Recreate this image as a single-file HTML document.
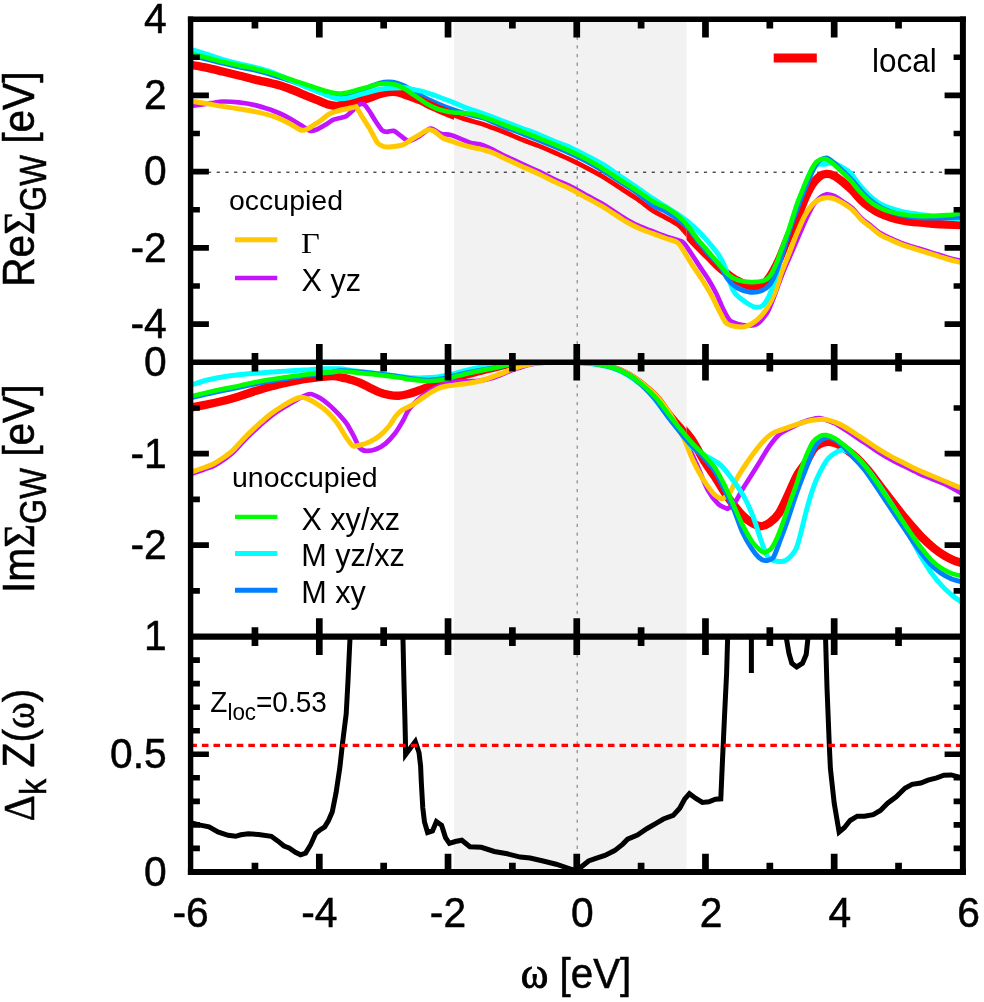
<!DOCTYPE html>
<html lang="en"><head><meta charset="utf-8"><title>GW self-energy</title>
<style>html,body{margin:0;padding:0;background:#fff}svg{display:block}text{font-family:"Liberation Sans",Arial,Helvetica,sans-serif;fill:#000}.sym{font-family:"Liberation Serif","DejaVu Serif",serif}.c{fill:none;stroke-linejoin:round;stroke-linecap:butt}.t{stroke:#000;stroke-width:5.6;fill:none}</style></head><body>
<svg width="984" height="1002" viewBox="0 0 984 1002">
<rect width="984" height="1002" fill="#fff"/>
<defs>
<clipPath id="cT"><rect x="190.6" y="19.1" width="772.3" height="343.1"/></clipPath>
<clipPath id="cM"><rect x="190.6" y="362.2" width="772.3" height="274.4"/></clipPath>
<clipPath id="cB"><rect x="190.6" y="636.6" width="772.3" height="235.4"/></clipPath>
<clipPath id="cIn"><rect x="454.0" y="0" width="232.5" height="1002"/></clipPath>
<clipPath id="cOut"><rect x="190.6" y="0" width="263.4" height="1002"/><rect x="686.5" y="0" width="276.4" height="1002"/></clipPath>
<clipPath id="cLeft"><rect x="0" y="0" width="600" height="1002"/></clipPath>
<clipPath id="cRight"><rect x="600" y="0" width="400" height="1002"/></clipPath>
</defs>
<rect x="454.0" y="19.1" width="232.5" height="852.8" fill="#f2f2f2"/>
<line x1="577.2" y1="19.1" x2="577.2" y2="872.0" stroke="#808080" stroke-width="1.1" stroke-dasharray="3.3 5.4"/>
<line x1="190.6" y1="172.2" x2="962.9" y2="172.2" stroke="#000" stroke-width="1.0" stroke-dasharray="3.2 5.5"/>
<g clip-path="url(#cT)">
<g clip-path="url(#cLeft)">
<path class="c" stroke="#0080ff" stroke-width="4.9" d="M191.0 55.5C191.4 55.6 192.5 55.7 193.3 55.9C194.1 56.1 202.0 58.0 206.3 59.1C210.6 60.2 217.1 61.9 222.5 63.2C227.9 64.5 233.4 65.7 238.8 66.9C244.2 68.1 249.6 68.9 255.0 70.2C260.4 71.5 265.9 73.0 271.3 74.6C276.7 76.2 282.2 78.2 287.6 80.0C293.0 81.8 298.4 83.4 303.8 85.2C309.2 87.0 316.2 89.6 320.0 90.8C323.8 92.0 328.7 93.6 331.5 94.1C334.3 94.6 337.2 94.9 340.0 94.7C342.8 94.5 346.6 93.7 349.8 93.0C353.0 92.3 356.3 91.3 359.5 90.3C362.7 89.3 366.1 88.2 369.3 87.0C372.5 85.8 375.8 84.1 379.0 83.3C382.2 82.5 386.1 82.0 388.8 82.0C391.5 82.0 394.3 82.3 396.9 83.0C399.5 83.7 402.4 84.8 405.0 86.1C407.6 87.4 410.6 89.9 413.2 91.5C415.8 93.1 418.6 94.5 421.3 95.9C424.0 97.3 427.8 99.2 431.0 100.7C434.2 102.2 437.6 103.6 440.8 105.0C444.0 106.4 447.3 107.7 450.6 108.9C453.9 110.1 459.2 111.9 463.6 113.1C468.0 114.3 479.3 116.8 483.1 118.0C486.9 119.2 490.4 121.0 494.0 122.5C497.6 124.0 502.2 126.0 506.3 127.6C510.4 129.2 517.1 131.6 522.5 133.7C527.9 135.8 533.4 138.0 538.8 140.2C544.2 142.4 549.6 144.5 555.0 146.7C560.4 148.9 565.9 151.2 571.3 153.7C576.7 156.2 582.3 158.9 587.6 161.8C592.9 164.7 598.5 167.8 603.8 171.1C609.1 174.4 614.6 178.2 620.0 181.7C625.4 185.2 631.1 188.4 636.3 192.2C641.5 196.0 649.0 202.9 653.0 205.5C657.0 208.1 661.8 209.2 666.0 211.5C670.2 213.8 675.5 217.3 679.0 220.0C682.5 222.7 685.9 225.7 688.8 229.0C691.7 232.3 695.4 238.1 698.5 242.0C701.6 245.9 705.0 249.7 708.3 253.5C711.6 257.3 718.7 264.3 721.3 267.8C723.9 271.3 725.1 275.8 727.8 279.2C730.5 282.6 733.8 285.9 737.6 288.1C741.4 290.3 746.8 291.8 750.6 292.2C754.4 292.6 758.8 291.9 762.0 290.6C765.2 289.3 768.0 286.9 770.1 284.1C772.2 281.3 774.8 275.6 776.6 271.1C778.4 266.6 779.9 261.3 781.5 256.4C783.1 251.5 787.6 236.1 789.6 230.0C791.6 223.9 795.0 214.9 796.1 212.0C797.2 209.1 798.2 206.1 799.3 203.2C800.4 200.3 804.3 190.5 806.6 184.9C808.9 179.3 812.5 171.2 814.0 168.4C815.5 165.6 817.4 162.3 819.4 160.6C821.4 158.9 825.5 157.7 826.8 157.9C828.1 158.1 831.8 161.0 834.1 162.9C836.4 164.8 840.2 168.4 843.2 171.2C846.2 174.0 849.5 177.1 852.4 180.3C855.3 183.5 858.6 188.1 861.5 191.3C864.4 194.5 867.9 198.0 870.7 200.4C873.5 202.8 876.6 205.0 879.8 206.8C883.0 208.6 887.0 210.5 890.8 211.9C894.6 213.3 899.1 214.6 903.4 215.5C907.7 216.4 913.1 217.1 918.0 217.5C922.9 217.9 927.8 218.0 932.7 218.0C937.6 218.0 942.4 218.0 947.3 217.8C952.2 217.6 960.4 217.1 963.0 217.0"/>
</g>
<g clip-path="url(#cOut)"><path class="c" stroke="#ff0000" stroke-width="8.4" d="M191.0 64.8C191.4 64.9 192.5 65.2 193.3 65.3C194.1 65.4 202.0 66.8 206.3 67.7C210.6 68.6 217.1 70.2 222.5 71.5C227.9 72.8 233.4 74.2 238.8 75.5C244.2 76.8 249.6 78.3 255.0 79.6C260.4 80.9 268.1 82.5 271.3 83.3C274.5 84.1 277.8 84.8 281.0 85.8C284.2 86.8 290.7 89.2 294.0 90.5C297.3 91.8 300.5 93.3 303.8 94.7C307.1 96.1 313.0 98.4 316.8 99.9C320.6 101.4 325.6 103.7 328.2 104.5C330.8 105.3 335.0 105.9 336.3 106.0C337.6 106.1 338.8 105.5 340.0 105.2C341.2 104.9 346.6 104.0 349.8 103.2C353.0 102.4 356.3 101.3 359.5 100.4C362.7 99.5 366.1 99.0 369.3 98.0C372.5 97.0 375.8 95.2 379.0 94.2C382.2 93.2 386.1 92.3 388.8 92.0C391.5 91.7 394.2 91.6 396.9 92.0C399.6 92.4 402.3 93.8 405.0 94.7C407.7 95.6 410.5 96.6 413.2 97.6C415.9 98.6 418.7 99.6 421.3 100.8C423.9 102.0 426.7 103.6 429.4 104.9C432.1 106.2 434.9 107.4 437.6 108.6C440.3 109.8 443.0 110.9 445.7 112.0C448.4 113.1 451.1 114.2 453.8 115.2C456.5 116.2 460.4 117.6 463.6 118.6C466.8 119.6 470.1 120.6 473.3 121.5C476.5 122.4 479.9 123.2 483.1 124.2C486.3 125.2 489.6 126.6 492.8 127.8C496.0 129.0 501.8 131.2 506.3 133.0C510.8 134.8 517.1 137.7 522.5 139.8C527.9 141.9 533.4 143.7 538.8 145.9C544.2 148.1 549.6 150.4 555.0 152.8C560.4 155.2 565.9 157.6 571.3 160.2C576.7 162.8 582.2 165.5 587.6 168.3C593.0 171.1 598.5 174.0 603.8 177.2C609.1 180.4 614.6 184.3 620.0 187.8C625.4 191.3 631.0 194.7 636.3 198.4C641.6 202.1 648.9 208.1 653.0 210.8C657.1 213.5 661.7 215.4 666.0 217.8C670.3 220.2 676.1 223.3 679.0 225.5C681.9 227.7 683.9 230.8 686.3 233.5C688.7 236.2 695.3 243.4 698.5 246.7C701.7 250.0 705.0 253.1 708.3 256.4C711.5 259.6 714.9 263.3 718.0 266.2C721.1 269.1 724.7 272.0 727.8 274.3C730.9 276.6 734.1 279.0 737.6 280.8C741.1 282.6 747.5 285.7 750.6 286.5C753.7 287.3 757.7 287.4 760.3 286.5C762.9 285.6 764.9 283.0 766.8 280.8C768.7 278.6 771.4 274.5 773.3 271.1C775.2 267.7 777.8 262.5 779.8 258.0C781.8 253.5 784.2 246.7 786.3 241.8C788.4 236.9 791.4 230.4 792.8 227.2C794.2 224.0 795.9 221.0 797.3 217.8C798.7 214.6 802.4 204.5 804.6 199.5C806.8 194.5 810.0 188.0 812.0 184.9C814.0 181.8 817.2 178.2 819.3 176.6C821.4 175.0 824.2 174.1 826.6 173.9C829.0 173.8 831.7 174.6 833.9 175.7C836.1 176.8 840.1 179.8 843.0 182.1C845.9 184.4 849.3 187.5 852.2 190.4C855.1 193.3 858.5 197.7 861.3 200.4C864.1 203.1 867.6 205.7 870.5 207.7C873.4 209.7 876.4 211.7 879.6 213.2C882.8 214.7 886.8 216.2 890.6 217.4C894.4 218.6 899.1 219.7 903.4 220.5C907.7 221.3 913.1 221.9 918.0 222.4C922.9 222.9 927.8 223.3 932.7 223.7C937.6 224.1 942.4 224.4 947.3 224.6C952.2 224.8 960.4 225.0 963.0 225.1"/></g>
<g clip-path="url(#cIn)"><path class="c" stroke="#ff0000" stroke-width="4.8" d="M191.0 64.8C191.4 64.9 192.5 65.2 193.3 65.3C194.1 65.4 202.0 66.8 206.3 67.7C210.6 68.6 217.1 70.2 222.5 71.5C227.9 72.8 233.4 74.2 238.8 75.5C244.2 76.8 249.6 78.3 255.0 79.6C260.4 80.9 268.1 82.5 271.3 83.3C274.5 84.1 277.8 84.8 281.0 85.8C284.2 86.8 290.7 89.2 294.0 90.5C297.3 91.8 300.5 93.3 303.8 94.7C307.1 96.1 313.0 98.4 316.8 99.9C320.6 101.4 325.6 103.7 328.2 104.5C330.8 105.3 335.0 105.9 336.3 106.0C337.6 106.1 338.8 105.5 340.0 105.2C341.2 104.9 346.6 104.0 349.8 103.2C353.0 102.4 356.3 101.3 359.5 100.4C362.7 99.5 366.1 99.0 369.3 98.0C372.5 97.0 375.8 95.2 379.0 94.2C382.2 93.2 386.1 92.3 388.8 92.0C391.5 91.7 394.2 91.6 396.9 92.0C399.6 92.4 402.3 93.8 405.0 94.7C407.7 95.6 410.5 96.6 413.2 97.6C415.9 98.6 418.7 99.6 421.3 100.8C423.9 102.0 426.7 103.6 429.4 104.9C432.1 106.2 434.9 107.4 437.6 108.6C440.3 109.8 443.0 110.9 445.7 112.0C448.4 113.1 451.1 114.2 453.8 115.2C456.5 116.2 460.4 117.6 463.6 118.6C466.8 119.6 470.1 120.6 473.3 121.5C476.5 122.4 479.9 123.2 483.1 124.2C486.3 125.2 489.6 126.6 492.8 127.8C496.0 129.0 501.8 131.2 506.3 133.0C510.8 134.8 517.1 137.7 522.5 139.8C527.9 141.9 533.4 143.7 538.8 145.9C544.2 148.1 549.6 150.4 555.0 152.8C560.4 155.2 565.9 157.6 571.3 160.2C576.7 162.8 582.2 165.5 587.6 168.3C593.0 171.1 598.5 174.0 603.8 177.2C609.1 180.4 614.6 184.3 620.0 187.8C625.4 191.3 631.0 194.7 636.3 198.4C641.6 202.1 648.9 208.1 653.0 210.8C657.1 213.5 661.7 215.4 666.0 217.8C670.3 220.2 676.1 223.3 679.0 225.5C681.9 227.7 683.9 230.8 686.3 233.5C688.7 236.2 695.3 243.4 698.5 246.7C701.7 250.0 705.0 253.1 708.3 256.4C711.5 259.6 714.9 263.3 718.0 266.2C721.1 269.1 724.7 272.0 727.8 274.3C730.9 276.6 734.1 279.0 737.6 280.8C741.1 282.6 747.5 285.7 750.6 286.5C753.7 287.3 757.7 287.4 760.3 286.5C762.9 285.6 764.9 283.0 766.8 280.8C768.7 278.6 771.4 274.5 773.3 271.1C775.2 267.7 777.8 262.5 779.8 258.0C781.8 253.5 784.2 246.7 786.3 241.8C788.4 236.9 791.4 230.4 792.8 227.2C794.2 224.0 795.9 221.0 797.3 217.8C798.7 214.6 802.4 204.5 804.6 199.5C806.8 194.5 810.0 188.0 812.0 184.9C814.0 181.8 817.2 178.2 819.3 176.6C821.4 175.0 824.2 174.1 826.6 173.9C829.0 173.8 831.7 174.6 833.9 175.7C836.1 176.8 840.1 179.8 843.0 182.1C845.9 184.4 849.3 187.5 852.2 190.4C855.1 193.3 858.5 197.7 861.3 200.4C864.1 203.1 867.6 205.7 870.5 207.7C873.4 209.7 876.4 211.7 879.6 213.2C882.8 214.7 886.8 216.2 890.6 217.4C894.4 218.6 899.1 219.7 903.4 220.5C907.7 221.3 913.1 221.9 918.0 222.4C922.9 222.9 927.8 223.3 932.7 223.7C937.6 224.1 942.4 224.4 947.3 224.6C952.2 224.8 960.4 225.0 963.0 225.1"/></g>
<path class="c" stroke="#c414ff" stroke-width="4.7" d="M191.0 106.0C191.4 105.9 192.5 105.7 193.3 105.6C194.1 105.5 207.2 103.7 211.0 103.2C214.8 102.7 218.6 101.6 222.5 101.5C226.4 101.4 233.4 101.8 238.8 102.4C244.2 103.0 249.7 103.9 255.0 105.1C260.3 106.3 268.0 108.9 271.3 110.0C274.6 111.1 277.8 112.5 281.0 114.0C284.2 115.5 287.6 117.3 290.8 119.1C294.0 120.9 297.4 123.2 300.6 125.1C303.8 127.0 308.2 130.2 310.3 130.8C312.4 131.4 314.7 130.3 316.8 129.5C318.9 128.7 322.3 126.7 325.0 125.1C327.7 123.5 330.4 121.1 333.0 119.9C335.6 118.7 339.4 118.3 341.2 117.8C343.0 117.3 344.9 116.9 346.5 115.9C348.1 114.9 351.3 111.8 353.0 110.2C354.7 108.6 356.2 106.3 357.9 105.3C359.6 104.3 363.5 103.6 363.6 103.7C363.7 103.8 367.6 108.5 369.3 111.0C371.0 113.5 373.7 118.4 375.8 121.5C377.9 124.6 381.0 129.4 382.3 130.5C383.6 131.6 385.5 131.8 387.2 131.8C388.9 131.8 391.8 130.3 393.7 130.8C395.6 131.3 398.0 133.9 400.2 135.4C402.4 136.9 407.1 141.0 408.3 141.1C409.5 141.2 415.0 138.8 418.0 137.0C421.0 135.2 426.4 130.5 427.8 129.7C429.2 128.9 431.1 128.4 432.7 128.9C434.3 129.4 437.8 132.7 440.8 133.7C443.8 134.7 447.4 134.2 450.6 135.0C453.8 135.8 457.1 137.3 460.3 138.6C463.5 139.9 467.0 141.8 470.1 142.7C473.2 143.6 476.6 143.4 479.8 144.3C483.0 145.2 486.4 146.7 489.6 148.2C492.8 149.7 500.9 154.0 506.3 156.6C511.7 159.2 517.1 161.7 522.5 164.2C527.9 166.7 533.4 169.0 538.8 171.5C544.2 174.0 549.6 177.1 555.0 179.6C560.4 182.1 566.0 184.2 571.3 186.9C576.6 189.6 582.2 192.9 587.6 195.9C593.0 198.9 598.5 201.6 603.8 204.8C609.1 208.0 617.8 214.0 620.0 215.4C622.2 216.8 624.3 218.3 626.5 219.5C628.7 220.7 635.8 224.6 640.0 226.5C644.2 228.4 648.7 229.8 653.0 231.5C657.3 233.2 661.6 235.0 666.0 236.5C670.4 238.0 679.3 240.0 682.3 241.8C685.3 243.6 686.8 247.1 688.8 249.9C690.8 252.7 695.3 259.7 698.5 264.6C701.7 269.5 705.4 274.5 708.3 279.2C711.2 283.9 714.0 289.0 716.4 293.8C718.8 298.6 721.0 304.6 722.9 308.5C724.8 312.4 727.3 317.6 729.4 319.8C731.5 322.0 734.7 323.0 737.6 323.9C740.5 324.8 744.0 325.5 747.3 325.5C750.5 325.5 754.3 325.7 757.1 323.9C759.9 322.1 764.2 317.3 766.8 313.3C769.4 309.3 771.3 303.6 773.3 298.7C775.3 293.8 777.7 286.2 779.8 280.8C781.9 275.4 784.2 269.5 786.3 264.6C788.4 259.7 790.7 254.8 792.8 249.9C794.9 245.0 797.9 237.9 800.3 232.4C802.7 226.9 805.6 220.1 807.6 216.0C809.6 211.9 812.4 206.4 814.0 204.0C815.6 201.6 818.1 199.0 820.0 197.5C821.9 196.0 824.3 194.7 826.6 194.4C828.9 194.2 831.7 195.0 834.0 196.0C836.3 197.0 840.0 199.7 843.0 201.7C846.0 203.7 849.4 205.6 852.2 208.1C855.0 210.6 858.5 215.4 861.3 218.1C864.1 220.8 867.5 223.0 870.5 225.4C873.5 227.8 876.3 230.7 879.6 232.8C882.9 234.9 886.9 236.5 890.6 238.2C894.3 239.9 899.0 242.1 903.4 243.7C907.8 245.3 913.1 246.8 918.0 248.3C922.9 249.8 927.8 251.4 932.7 252.9C937.6 254.4 942.4 256.1 947.3 257.5C952.2 258.9 960.4 260.8 963.0 261.5"/>
<path class="c" stroke="#ffc800" stroke-width="5.0" d="M191.0 101.2C191.4 101.2 192.5 101.4 193.3 101.5C194.1 101.6 202.0 102.8 206.3 103.5C210.6 104.2 217.1 105.5 222.5 106.4C227.9 107.3 233.4 108.0 238.8 108.9C244.2 109.8 249.6 110.5 255.0 111.6C260.4 112.7 268.0 114.7 271.3 115.7C274.6 116.7 277.8 118.0 281.0 119.4C284.2 120.8 287.6 122.6 290.8 124.3C294.0 126.0 298.5 129.4 300.6 130.0C302.7 130.6 305.0 130.0 307.0 129.2C309.0 128.4 311.5 126.5 313.6 125.1C315.7 123.7 317.9 122.5 320.0 121.0C322.1 119.5 325.7 116.1 328.2 114.6C330.7 113.1 335.1 111.7 336.3 111.3C337.5 110.9 338.7 110.5 340.0 110.2C341.3 109.9 345.4 109.1 348.1 108.5C350.8 107.9 356.3 106.6 356.3 106.6C356.3 106.6 359.4 112.2 361.1 115.0C362.8 117.8 366.7 123.6 369.3 128.0C371.9 132.4 375.8 140.7 377.4 142.7C379.0 144.7 381.5 146.0 383.9 146.7C386.3 147.4 389.3 147.0 392.0 146.7C394.7 146.4 400.4 145.7 403.4 144.6C406.4 143.5 408.8 141.1 411.5 139.4C414.2 137.7 417.0 136.2 419.7 134.6C422.4 133.0 425.6 130.5 427.8 130.0C430.0 129.5 432.4 130.3 434.3 131.3C436.2 132.3 439.4 136.1 442.4 137.8C445.4 139.5 450.6 140.8 453.8 141.9C457.0 143.0 460.4 144.2 463.6 145.1C466.8 146.0 470.1 146.8 473.3 147.6C476.5 148.4 479.9 148.8 483.1 149.7C486.3 150.6 489.7 151.5 492.8 152.8C495.9 154.1 501.8 157.2 506.3 159.3C510.8 161.4 517.1 164.3 522.5 166.7C527.9 169.1 533.4 171.5 538.8 174.0C544.2 176.5 549.6 179.6 555.0 182.1C560.4 184.6 566.0 186.7 571.3 189.4C576.6 192.1 582.2 195.4 587.6 198.4C593.0 201.4 598.5 204.1 603.8 207.3C609.1 210.5 617.8 216.5 620.0 217.9C622.2 219.3 624.3 220.8 626.5 222.0C628.7 223.2 635.8 226.9 640.0 228.8C644.2 230.7 648.7 232.1 653.0 233.7C657.3 235.3 662.2 237.1 666.0 238.5C669.8 239.9 674.4 240.4 677.4 242.6C680.4 244.8 681.9 248.4 683.9 251.5C685.9 254.6 689.2 260.3 692.0 264.6C694.8 268.9 698.7 274.2 701.8 279.2C704.9 284.2 708.6 290.1 711.5 295.4C714.4 300.7 717.6 307.8 719.7 311.7C721.8 315.6 724.1 321.0 726.2 323.1C728.3 325.2 731.4 325.8 734.3 326.3C737.2 326.8 742.0 327.3 745.7 326.3C749.4 325.3 753.8 322.6 757.1 319.8C760.4 317.0 764.1 312.7 766.8 308.5C769.5 304.3 772.7 297.8 775.0 292.2C777.3 286.6 779.5 278.2 781.5 272.7C783.5 267.2 786.6 259.9 788.0 256.4C789.4 252.9 790.7 249.5 792.0 246.0C793.3 242.5 795.4 236.9 797.3 232.4C799.2 227.9 802.5 219.9 804.6 216.0C806.7 212.1 810.0 207.3 812.0 205.0C814.0 202.7 817.1 200.6 819.3 199.5C821.5 198.4 824.2 197.8 826.6 197.7C829.0 197.5 831.6 197.8 833.9 198.6C836.2 199.4 840.1 201.4 843.0 203.2C845.9 205.0 849.4 207.1 852.2 209.6C855.0 212.1 858.5 216.9 861.3 219.6C864.1 222.3 867.5 224.5 870.5 226.9C873.5 229.3 876.3 232.2 879.6 234.3C882.9 236.4 886.9 238.0 890.6 239.7C894.3 241.4 899.0 243.6 903.4 245.2C907.8 246.8 913.1 248.3 918.0 249.8C922.9 251.3 927.8 252.9 932.7 254.4C937.6 255.9 942.4 257.6 947.3 259.0C952.2 260.4 960.4 262.3 963.0 263.0"/>
<path class="c" stroke="#00ffff" stroke-width="5.0" d="M191.0 49.5C191.4 49.6 192.5 50.1 193.3 50.3C194.1 50.5 202.0 52.8 206.3 54.1C210.6 55.4 217.1 57.7 222.5 59.3C227.9 60.9 233.4 62.4 238.8 63.7C244.2 65.0 249.6 66.0 255.0 67.4C260.4 68.8 266.0 70.1 271.3 72.0C276.6 73.9 282.2 76.5 287.6 78.8C293.0 81.1 298.4 83.8 303.8 86.1C309.2 88.4 316.2 91.1 320.0 92.6C323.8 94.1 328.7 96.1 331.5 97.0C334.3 97.9 337.1 98.7 340.0 98.8C342.9 98.9 346.6 98.3 349.8 97.6C353.0 96.9 356.3 95.6 359.5 94.7C362.7 93.8 366.1 92.9 369.3 92.0C372.5 91.1 375.8 90.1 379.0 89.5C382.2 88.9 385.5 88.4 388.8 88.2C392.1 88.0 402.2 87.6 405.0 87.7C407.8 87.8 410.5 88.9 413.2 89.5C415.9 90.1 418.6 90.5 421.3 91.2C424.0 91.9 426.7 92.8 429.4 93.7C432.1 94.6 434.9 95.5 437.6 96.5C440.3 97.5 443.0 98.5 445.7 99.5C448.4 100.5 451.1 101.5 453.8 102.6C456.5 103.7 460.4 105.7 463.6 106.9C466.8 108.1 470.1 109.1 473.3 110.2C476.5 111.3 479.9 112.4 483.1 113.6C486.3 114.8 489.6 116.0 492.8 117.2C496.0 118.4 501.8 120.7 506.3 122.4C510.8 124.1 517.1 126.5 522.5 128.5C527.9 130.5 533.4 132.4 538.8 134.6C544.2 136.8 549.6 139.3 555.0 141.5C560.4 143.7 566.0 145.6 571.3 148.0C576.6 150.4 582.2 153.3 587.6 156.1C593.0 158.9 598.6 161.8 603.8 165.0C609.0 168.2 614.6 172.4 620.0 176.1C625.4 179.8 630.9 183.3 636.3 187.0C641.7 190.7 648.8 195.9 653.0 198.7C657.2 201.5 661.7 204.1 666.0 206.8C670.3 209.5 675.6 212.7 679.0 215.0C682.4 217.3 685.7 219.7 688.8 222.3C691.9 224.9 695.4 228.1 698.5 231.2C701.6 234.3 705.2 238.1 708.3 241.8C711.4 245.5 715.4 250.2 718.0 254.0C720.6 257.8 722.8 261.9 724.6 266.2C726.4 270.5 728.0 276.9 729.4 280.8C730.8 284.7 731.9 288.8 734.3 292.2C736.7 295.6 741.1 298.9 744.1 301.1C747.1 303.3 751.2 306.1 753.8 306.8C756.4 307.5 760.2 307.2 762.0 306.0C763.8 304.8 766.8 300.4 768.5 297.1C770.2 293.8 771.8 288.5 773.3 284.1C774.8 279.7 776.7 273.3 778.2 267.8C779.7 262.3 781.3 255.2 783.1 249.0C784.9 242.8 787.4 235.1 789.6 228.2C791.8 221.3 795.1 210.2 797.3 204.0C799.5 197.8 802.3 191.2 804.6 185.7C806.9 180.2 810.7 171.6 812.0 169.5C813.3 167.4 815.3 165.4 817.4 164.5C819.5 163.6 822.3 164.4 824.8 164.2C827.2 163.9 829.7 162.6 832.1 163.0C834.5 163.4 838.3 165.0 841.2 166.6C844.1 168.2 847.8 170.4 850.4 173.0C853.0 175.6 856.6 181.4 859.5 184.9C862.4 188.4 865.9 192.2 868.7 194.9C871.5 197.6 874.5 200.2 877.8 202.3C881.1 204.4 885.0 206.3 888.8 207.7C892.6 209.1 898.6 210.8 903.4 211.9C908.2 213.0 913.1 213.4 918.0 214.1C922.9 214.8 927.8 215.4 932.7 216.0C937.6 216.6 942.4 217.2 947.3 217.8C952.2 218.4 960.4 219.3 963.0 219.6"/>
<g clip-path="url(#cRight)">
<path class="c" stroke="#0080ff" stroke-width="4.9" d="M191.0 55.5C191.4 55.6 192.5 55.7 193.3 55.9C194.1 56.1 202.0 58.0 206.3 59.1C210.6 60.2 217.1 61.9 222.5 63.2C227.9 64.5 233.4 65.7 238.8 66.9C244.2 68.1 249.6 68.9 255.0 70.2C260.4 71.5 265.9 73.0 271.3 74.6C276.7 76.2 282.2 78.2 287.6 80.0C293.0 81.8 298.4 83.4 303.8 85.2C309.2 87.0 316.2 89.6 320.0 90.8C323.8 92.0 328.7 93.6 331.5 94.1C334.3 94.6 337.2 94.9 340.0 94.7C342.8 94.5 346.6 93.7 349.8 93.0C353.0 92.3 356.3 91.3 359.5 90.3C362.7 89.3 366.1 88.2 369.3 87.0C372.5 85.8 375.8 84.1 379.0 83.3C382.2 82.5 386.1 82.0 388.8 82.0C391.5 82.0 394.3 82.3 396.9 83.0C399.5 83.7 402.4 84.8 405.0 86.1C407.6 87.4 410.6 89.9 413.2 91.5C415.8 93.1 418.6 94.5 421.3 95.9C424.0 97.3 427.8 99.2 431.0 100.7C434.2 102.2 437.6 103.6 440.8 105.0C444.0 106.4 447.3 107.7 450.6 108.9C453.9 110.1 459.2 111.9 463.6 113.1C468.0 114.3 479.3 116.8 483.1 118.0C486.9 119.2 490.4 121.0 494.0 122.5C497.6 124.0 502.2 126.0 506.3 127.6C510.4 129.2 517.1 131.6 522.5 133.7C527.9 135.8 533.4 138.0 538.8 140.2C544.2 142.4 549.6 144.5 555.0 146.7C560.4 148.9 565.9 151.2 571.3 153.7C576.7 156.2 582.3 158.9 587.6 161.8C592.9 164.7 598.5 167.8 603.8 171.1C609.1 174.4 614.6 178.2 620.0 181.7C625.4 185.2 631.1 188.4 636.3 192.2C641.5 196.0 649.0 202.9 653.0 205.5C657.0 208.1 661.8 209.2 666.0 211.5C670.2 213.8 675.5 217.3 679.0 220.0C682.5 222.7 685.9 225.7 688.8 229.0C691.7 232.3 695.4 238.1 698.5 242.0C701.6 245.9 705.0 249.7 708.3 253.5C711.6 257.3 718.7 264.3 721.3 267.8C723.9 271.3 725.1 275.8 727.8 279.2C730.5 282.6 733.8 285.9 737.6 288.1C741.4 290.3 746.8 291.8 750.6 292.2C754.4 292.6 758.8 291.9 762.0 290.6C765.2 289.3 768.0 286.9 770.1 284.1C772.2 281.3 774.8 275.6 776.6 271.1C778.4 266.6 779.9 261.3 781.5 256.4C783.1 251.5 787.6 236.1 789.6 230.0C791.6 223.9 795.0 214.9 796.1 212.0C797.2 209.1 798.2 206.1 799.3 203.2C800.4 200.3 804.3 190.5 806.6 184.9C808.9 179.3 812.5 171.2 814.0 168.4C815.5 165.6 817.4 162.3 819.4 160.6C821.4 158.9 825.5 157.7 826.8 157.9C828.1 158.1 831.8 161.0 834.1 162.9C836.4 164.8 840.2 168.4 843.2 171.2C846.2 174.0 849.5 177.1 852.4 180.3C855.3 183.5 858.6 188.1 861.5 191.3C864.4 194.5 867.9 198.0 870.7 200.4C873.5 202.8 876.6 205.0 879.8 206.8C883.0 208.6 887.0 210.5 890.8 211.9C894.6 213.3 899.1 214.6 903.4 215.5C907.7 216.4 913.1 217.1 918.0 217.5C922.9 217.9 927.8 218.0 932.7 218.0C937.6 218.0 942.4 218.0 947.3 217.8C952.2 217.6 960.4 217.1 963.0 217.0"/>
</g>
<path class="c" stroke="#00ff00" stroke-width="4.6" d="M191.0 54.0C191.4 54.1 192.5 54.2 193.3 54.4C194.1 54.6 202.0 56.5 206.3 57.6C210.6 58.7 217.1 60.4 222.5 61.7C227.9 63.0 233.4 64.2 238.8 65.4C244.2 66.6 249.6 67.4 255.0 68.7C260.4 70.0 265.9 71.5 271.3 73.1C276.7 74.7 282.2 76.7 287.6 78.5C293.0 80.3 298.4 81.9 303.8 83.7C309.2 85.5 316.2 88.1 320.0 89.3C323.8 90.5 328.7 92.0 331.5 92.6C334.3 93.2 337.1 93.7 340.0 93.6C342.9 93.5 346.6 92.7 349.8 92.0C353.0 91.3 356.3 90.2 359.5 89.3C362.7 88.4 366.1 87.5 369.3 86.6C372.5 85.7 375.8 84.6 379.0 84.1C382.2 83.6 386.1 83.6 388.8 83.7C391.5 83.8 394.3 84.1 396.9 85.0C399.5 85.9 402.4 87.5 405.0 89.0C407.6 90.5 410.5 92.9 413.2 94.7C415.9 96.5 418.6 98.3 421.3 100.1C424.0 101.9 426.8 103.9 429.4 105.3C432.0 106.7 435.0 108.0 437.6 109.0C440.2 110.0 443.0 110.6 445.7 111.2C448.4 111.8 451.1 112.2 453.8 112.5C456.5 112.8 460.4 112.8 463.6 113.1C466.8 113.4 470.1 113.6 473.3 114.2C476.5 114.8 479.9 116.0 483.1 117.0C486.3 118.0 489.6 119.1 492.8 120.3C496.0 121.5 501.8 123.9 506.3 125.6C510.8 127.3 517.1 129.6 522.5 131.7C527.9 133.8 533.4 136.0 538.8 138.2C544.2 140.4 549.6 142.5 555.0 144.7C560.4 146.9 565.9 149.2 571.3 151.7C576.7 154.2 582.3 156.9 587.6 159.8C592.9 162.7 598.5 165.8 603.8 169.1C609.1 172.4 614.6 176.2 620.0 179.7C625.4 183.2 630.9 186.6 636.3 190.2C641.7 193.8 648.9 199.1 653.0 201.5C657.1 203.9 661.9 205.2 666.0 207.6C670.1 210.0 675.4 213.5 679.0 216.6C682.6 219.7 685.7 223.5 688.8 227.2C691.9 230.9 695.4 236.3 698.5 240.2C701.6 244.1 705.1 247.7 708.3 251.5C711.5 255.3 714.8 259.1 718.0 262.9C721.2 266.7 725.0 271.8 727.8 274.3C730.6 276.8 734.0 278.8 737.6 280.0C741.2 281.2 746.3 282.0 750.6 282.1C754.9 282.2 761.0 281.6 763.6 280.8C766.2 280.0 768.5 278.1 770.1 275.9C771.7 273.7 774.7 267.4 776.6 262.9C778.5 258.4 780.9 250.9 783.1 245.0C785.3 239.1 787.6 233.2 789.6 227.2C791.6 221.2 795.1 209.4 797.3 203.2C799.5 197.0 802.3 190.5 804.6 184.9C806.9 179.3 810.6 171.1 812.0 168.4C813.4 165.7 815.3 162.6 817.4 161.1C819.5 159.6 822.8 158.7 824.8 158.9C826.8 159.1 829.9 161.2 832.1 162.9C834.3 164.6 838.2 168.4 841.2 171.2C844.2 174.0 847.5 177.1 850.4 180.3C853.3 183.5 856.6 188.1 859.5 191.3C862.4 194.5 865.9 198.0 868.7 200.4C871.5 202.8 874.5 205.0 877.8 206.8C881.1 208.6 885.0 210.3 888.8 211.4C892.6 212.5 898.6 213.7 903.4 214.5C908.2 215.3 913.1 215.8 918.0 216.0C922.9 216.2 927.8 216.1 932.7 216.0C937.6 215.9 942.4 215.5 947.3 215.1C952.2 214.7 960.4 213.5 963.0 213.2"/>
</g>
<g clip-path="url(#cM)">
<g clip-path="url(#cOut)"><path class="c" stroke="#ff0000" stroke-width="8.4" d="M191.0 407.5C191.4 407.4 192.5 407.1 193.3 407.0C194.1 406.9 202.0 405.5 206.3 404.6C210.6 403.7 217.1 402.3 222.5 401.0C227.9 399.7 233.4 398.1 238.8 396.5C244.2 394.9 249.6 392.8 255.0 391.1C260.4 389.4 265.9 387.7 271.3 386.2C276.7 384.7 282.2 383.5 287.6 382.3C293.0 381.1 298.4 380.0 303.8 379.1C309.2 378.2 315.7 377.4 320.0 377.0C324.3 376.6 329.7 376.0 333.0 376.1C336.3 376.2 340.5 377.3 342.8 377.8C345.1 378.3 347.5 378.7 349.8 379.4C352.1 380.1 356.4 381.3 359.5 382.6C362.6 383.9 366.1 385.9 369.3 387.5C372.5 389.1 375.8 390.9 379.0 392.1C382.2 393.3 385.6 394.2 388.8 394.8C392.0 395.4 395.3 395.8 398.5 395.7C401.7 395.6 405.1 394.8 408.3 394.0C411.5 393.2 414.8 391.9 418.0 390.8C421.2 389.7 424.5 388.3 427.8 387.2C431.1 386.1 434.4 384.9 437.6 383.9C440.8 382.9 445.1 381.9 447.3 381.3C449.5 380.7 451.6 380.0 453.8 379.4C456.0 378.8 460.3 377.8 463.6 377.0C466.9 376.2 472.3 374.8 476.6 373.7C480.9 372.6 486.1 371.2 489.6 370.4C493.1 369.6 496.7 368.8 500.0 368.0C503.3 367.2 506.6 366.2 510.0 365.5C513.4 364.8 518.0 363.7 522.0 363.2C526.0 362.7 534.0 362.1 540.0 362.0C546.0 361.9 575.4 361.9 580.0 362.0C584.6 362.1 589.1 362.7 593.6 363.4C598.1 364.1 608.3 365.7 614.0 367.4C619.7 369.1 625.2 371.7 630.2 374.6C635.2 377.5 639.9 381.0 644.4 384.7C648.9 388.4 654.4 393.1 658.7 397.9C663.0 402.7 667.5 410.2 671.0 414.6C674.5 419.0 678.4 423.1 682.0 427.4C685.6 431.7 689.7 436.3 692.9 441.2C696.1 446.1 700.4 454.8 703.9 460.4C707.4 466.0 711.8 472.0 714.9 476.8C718.0 481.6 721.1 487.1 724.0 491.5C726.9 495.9 730.3 500.6 733.2 504.3C736.1 508.0 739.5 512.4 742.3 515.2C745.1 518.0 748.7 520.9 751.5 522.6C754.3 524.3 757.9 526.2 760.6 526.2C763.3 526.2 767.1 524.5 769.8 522.6C772.5 520.7 776.5 517.0 778.9 513.4C781.3 509.8 785.1 501.2 788.0 495.1C790.9 489.0 794.5 479.8 797.2 475.0C799.9 470.2 804.2 465.4 806.6 461.5C809.0 457.6 811.5 451.7 813.2 449.4C814.9 447.1 817.2 445.2 819.8 443.9C822.3 442.6 825.6 441.7 828.5 441.7C831.4 441.7 834.5 442.7 837.3 443.9C840.1 445.1 843.3 447.4 846.1 449.4C848.9 451.4 853.7 455.0 857.1 458.2C860.5 461.4 864.6 466.1 868.1 470.3C871.6 474.5 875.4 479.8 879.0 484.5C882.6 489.2 886.3 494.0 890.0 498.8C893.7 503.6 897.4 508.7 901.0 513.1C904.6 517.5 908.4 522.1 912.0 526.2C915.6 530.3 919.4 534.8 922.9 538.3C926.4 541.8 930.4 545.4 933.9 548.2C937.4 551.0 942.1 554.2 944.9 555.9C947.7 557.6 950.7 559.0 953.7 560.3C956.7 561.6 961.5 563.0 963.0 563.5"/></g>
<g clip-path="url(#cIn)"><path class="c" stroke="#ff0000" stroke-width="4.8" d="M191.0 407.5C191.4 407.4 192.5 407.1 193.3 407.0C194.1 406.9 202.0 405.5 206.3 404.6C210.6 403.7 217.1 402.3 222.5 401.0C227.9 399.7 233.4 398.1 238.8 396.5C244.2 394.9 249.6 392.8 255.0 391.1C260.4 389.4 265.9 387.7 271.3 386.2C276.7 384.7 282.2 383.5 287.6 382.3C293.0 381.1 298.4 380.0 303.8 379.1C309.2 378.2 315.7 377.4 320.0 377.0C324.3 376.6 329.7 376.0 333.0 376.1C336.3 376.2 340.5 377.3 342.8 377.8C345.1 378.3 347.5 378.7 349.8 379.4C352.1 380.1 356.4 381.3 359.5 382.6C362.6 383.9 366.1 385.9 369.3 387.5C372.5 389.1 375.8 390.9 379.0 392.1C382.2 393.3 385.6 394.2 388.8 394.8C392.0 395.4 395.3 395.8 398.5 395.7C401.7 395.6 405.1 394.8 408.3 394.0C411.5 393.2 414.8 391.9 418.0 390.8C421.2 389.7 424.5 388.3 427.8 387.2C431.1 386.1 434.4 384.9 437.6 383.9C440.8 382.9 445.1 381.9 447.3 381.3C449.5 380.7 451.6 380.0 453.8 379.4C456.0 378.8 460.3 377.8 463.6 377.0C466.9 376.2 472.3 374.8 476.6 373.7C480.9 372.6 486.1 371.2 489.6 370.4C493.1 369.6 496.7 368.8 500.0 368.0C503.3 367.2 506.6 366.2 510.0 365.5C513.4 364.8 518.0 363.7 522.0 363.2C526.0 362.7 534.0 362.1 540.0 362.0C546.0 361.9 575.4 361.9 580.0 362.0C584.6 362.1 589.1 362.7 593.6 363.4C598.1 364.1 608.3 365.7 614.0 367.4C619.7 369.1 625.2 371.7 630.2 374.6C635.2 377.5 639.9 381.0 644.4 384.7C648.9 388.4 654.4 393.1 658.7 397.9C663.0 402.7 667.5 410.2 671.0 414.6C674.5 419.0 678.4 423.1 682.0 427.4C685.6 431.7 689.7 436.3 692.9 441.2C696.1 446.1 700.4 454.8 703.9 460.4C707.4 466.0 711.8 472.0 714.9 476.8C718.0 481.6 721.1 487.1 724.0 491.5C726.9 495.9 730.3 500.6 733.2 504.3C736.1 508.0 739.5 512.4 742.3 515.2C745.1 518.0 748.7 520.9 751.5 522.6C754.3 524.3 757.9 526.2 760.6 526.2C763.3 526.2 767.1 524.5 769.8 522.6C772.5 520.7 776.5 517.0 778.9 513.4C781.3 509.8 785.1 501.2 788.0 495.1C790.9 489.0 794.5 479.8 797.2 475.0C799.9 470.2 804.2 465.4 806.6 461.5C809.0 457.6 811.5 451.7 813.2 449.4C814.9 447.1 817.2 445.2 819.8 443.9C822.3 442.6 825.6 441.7 828.5 441.7C831.4 441.7 834.5 442.7 837.3 443.9C840.1 445.1 843.3 447.4 846.1 449.4C848.9 451.4 853.7 455.0 857.1 458.2C860.5 461.4 864.6 466.1 868.1 470.3C871.6 474.5 875.4 479.8 879.0 484.5C882.6 489.2 886.3 494.0 890.0 498.8C893.7 503.6 897.4 508.7 901.0 513.1C904.6 517.5 908.4 522.1 912.0 526.2C915.6 530.3 919.4 534.8 922.9 538.3C926.4 541.8 930.4 545.4 933.9 548.2C937.4 551.0 942.1 554.2 944.9 555.9C947.7 557.6 950.7 559.0 953.7 560.3C956.7 561.6 961.5 563.0 963.0 563.5"/></g>
<path class="c" stroke="#c414ff" stroke-width="4.7" d="M192.0 473.5C192.4 473.4 193.5 473.1 194.3 472.8C195.1 472.5 200.8 470.7 204.0 469.5C207.2 468.3 210.7 467.4 213.8 465.8C216.9 464.2 220.4 462.0 223.5 459.8C226.6 457.6 230.3 455.2 233.3 452.4C236.3 449.6 239.8 445.2 243.0 441.9C246.2 438.6 249.6 435.1 252.8 432.1C256.0 429.1 259.3 426.0 262.5 423.2C265.7 420.4 269.2 417.3 272.3 415.0C275.4 412.7 278.8 410.5 282.0 408.5C285.2 406.5 288.9 404.5 291.8 402.8C294.7 401.1 297.5 399.1 300.6 397.6C303.7 396.1 307.4 393.9 310.3 394.0C313.2 394.1 317.0 396.3 320.0 398.1C323.0 399.9 326.7 402.7 329.8 405.4C332.9 408.1 337.2 412.6 339.6 415.2C342.0 417.8 344.5 420.4 346.5 423.3C348.5 426.2 350.9 430.8 353.0 434.7C355.1 438.6 358.0 445.8 359.5 447.7C361.0 449.6 363.6 450.7 366.0 450.9C368.4 451.1 372.7 450.5 375.8 449.3C378.9 448.1 382.6 446.0 385.5 443.6C388.4 441.2 392.4 436.8 395.3 433.0C398.2 429.2 401.6 423.1 403.4 420.0C405.2 416.9 406.2 413.3 408.3 410.3C410.4 407.3 413.5 404.1 416.4 401.3C419.3 398.5 422.7 395.6 426.2 393.2C429.7 390.8 433.6 388.4 437.6 386.7C441.6 385.0 446.3 383.5 450.6 382.6C454.9 381.7 459.3 381.6 463.6 381.3C467.9 381.0 472.3 381.4 476.6 381.0C480.9 380.6 486.0 379.7 489.6 378.8C493.2 377.9 496.6 376.5 500.0 375.2C503.4 373.9 506.6 372.3 510.0 371.0C513.4 369.7 517.2 368.5 520.5 367.4C523.8 366.3 527.2 365.2 530.6 364.5C534.0 363.8 540.2 362.9 545.0 362.7C549.8 362.5 576.0 362.4 580.0 362.5C584.0 362.6 588.0 362.8 592.0 363.4C596.0 364.0 606.8 365.7 612.5 367.4C618.2 369.1 623.7 371.7 628.7 374.6C633.7 377.5 638.4 381.0 642.9 384.7C647.4 388.4 652.9 393.1 657.2 397.9C661.5 402.7 665.6 408.8 669.5 414.5C673.4 420.2 678.9 428.6 683.0 436.0C687.1 443.4 692.7 455.6 696.6 464.0C700.5 472.4 704.7 484.2 707.6 489.6C710.5 495.0 716.0 501.9 718.5 504.3C721.0 506.7 727.5 508.8 727.7 508.8C727.9 508.8 733.0 505.0 735.0 502.4C737.0 499.8 739.8 493.8 742.3 489.6C744.8 485.4 748.5 479.9 751.5 475.0C754.5 470.1 757.6 465.3 760.6 460.4C763.6 455.5 767.0 449.6 769.8 445.7C772.6 441.8 776.3 437.2 778.9 434.8C781.5 432.4 784.9 431.0 788.0 429.3C791.1 427.6 795.4 425.3 799.0 423.8C802.6 422.3 806.4 420.7 810.0 419.8C813.6 418.9 817.3 417.8 821.0 418.3C824.7 418.8 831.6 422.0 833.8 422.9C836.0 423.8 838.0 425.2 840.0 426.5C842.0 427.8 848.5 432.0 852.7 434.8C856.9 437.6 861.5 440.7 865.9 443.6C870.3 446.5 874.7 449.7 879.0 452.4C883.3 455.1 887.9 457.8 892.2 460.1C896.5 462.4 901.0 464.5 905.4 466.7C909.8 468.9 914.3 471.3 918.6 473.3C922.9 475.3 927.3 476.9 931.7 478.7C936.1 480.5 940.6 482.1 944.9 484.2C949.2 486.3 960.0 492.4 963.0 494.0"/>
<path class="c" stroke="#ffc800" stroke-width="5.0" d="M191.0 472.0C191.4 471.9 192.5 471.6 193.3 471.3C194.1 471.0 199.8 469.2 203.0 468.0C206.2 466.8 209.7 465.9 212.8 464.3C215.9 462.7 219.4 460.5 222.5 458.3C225.6 456.1 229.3 453.7 232.3 450.9C235.3 448.1 238.8 443.7 242.0 440.4C245.2 437.1 248.6 433.6 251.8 430.6C255.0 427.6 258.3 424.5 261.5 421.7C264.7 418.9 268.2 415.8 271.3 413.5C274.4 411.2 277.8 409.0 281.0 407.0C284.2 405.0 287.6 402.9 290.8 401.3C294.0 399.7 298.5 397.7 300.6 397.3C302.7 396.9 305.0 397.8 307.0 398.6C309.0 399.4 313.7 401.8 316.8 403.8C319.9 405.8 323.6 408.3 326.6 411.1C329.6 413.9 333.4 417.9 336.3 421.7C339.2 425.5 344.5 435.0 346.5 437.9C348.5 440.8 352.2 445.7 353.0 446.1C353.8 446.5 357.4 445.7 359.5 445.2C361.6 444.7 366.2 443.4 369.3 442.0C372.4 440.6 376.1 438.6 379.0 436.3C381.9 434.0 386.3 429.5 388.8 426.5C391.3 423.5 393.4 419.2 395.3 416.8C397.2 414.4 399.3 412.1 401.8 410.3C404.3 408.5 408.4 407.2 411.5 405.4C414.6 403.6 418.1 401.1 421.3 398.9C424.5 396.7 427.8 394.2 431.0 392.4C434.2 390.6 437.3 388.6 440.8 387.5C444.3 386.4 449.5 385.8 453.8 385.1C458.1 384.4 462.5 384.2 466.8 383.5C471.1 382.8 476.5 381.8 479.8 381.0C483.1 380.2 486.3 378.9 489.6 377.8C492.9 376.7 496.6 375.5 500.0 374.2C503.4 372.9 506.6 371.3 510.0 370.0C513.4 368.7 517.2 367.4 520.5 366.4C523.8 365.4 527.2 364.5 530.6 364.0C534.0 363.5 540.2 362.6 545.0 362.5C549.8 362.4 575.7 362.4 580.0 362.5C584.3 362.6 588.7 362.8 593.0 363.4C597.3 364.0 607.8 365.7 613.5 367.4C619.2 369.1 624.7 371.7 629.7 374.6C634.7 377.5 639.4 381.0 643.9 384.7C648.4 388.4 653.9 393.1 658.2 397.9C662.5 402.7 666.8 408.7 670.5 414.5C674.2 420.3 680.3 431.3 683.8 438.4C687.3 445.5 689.6 453.5 692.9 460.4C696.2 467.3 700.6 475.4 703.9 480.5C707.2 485.6 713.0 493.2 714.9 495.1C716.8 497.0 721.7 498.9 722.2 498.8C722.7 498.7 727.7 495.8 729.5 493.3C731.3 490.8 734.1 483.4 736.8 478.7C739.5 474.0 743.1 468.4 746.0 464.0C748.9 459.6 752.2 455.0 755.1 451.2C758.0 447.4 761.6 442.9 764.3 440.2C767.0 437.5 770.0 434.7 773.4 432.9C776.8 431.1 783.1 429.1 788.0 427.4C792.9 425.7 799.1 423.6 802.7 422.6C806.3 421.6 809.9 420.6 813.6 420.1C817.3 419.6 821.6 418.9 825.5 419.5C829.4 420.1 835.0 422.1 839.5 424.1C844.0 426.1 848.4 429.1 852.7 431.8C857.0 434.5 861.5 437.7 865.9 440.6C870.3 443.5 874.7 446.7 879.0 449.4C883.3 452.1 887.9 454.8 892.2 457.1C896.5 459.4 901.0 461.5 905.4 463.7C909.8 465.9 914.3 468.3 918.6 470.3C922.9 472.3 927.3 473.9 931.7 475.7C936.1 477.5 940.5 479.3 944.9 481.2C949.3 483.1 960.0 487.7 963.0 489.0"/>
<path class="c" stroke="#00ffff" stroke-width="5.0" d="M191.0 385.0C191.4 384.9 192.5 384.5 193.3 384.3C194.1 384.1 201.9 381.3 206.3 380.2C210.7 379.1 217.1 377.9 222.5 377.0C227.9 376.1 233.4 375.4 238.8 374.8C244.2 374.2 249.6 373.6 255.0 373.2C260.4 372.8 265.9 372.5 271.3 372.1C276.7 371.7 282.2 371.2 287.6 370.9C293.0 370.6 298.4 370.3 303.8 370.0C309.2 369.7 315.7 369.0 320.0 368.8C324.3 368.6 330.7 368.8 333.0 368.8C335.3 368.8 337.7 368.6 340.0 368.8C342.3 369.0 350.9 370.3 356.3 371.0C361.7 371.7 367.1 372.3 372.5 373.0C377.9 373.7 383.4 374.3 388.8 375.0C394.2 375.7 402.3 376.7 405.0 377.0C407.7 377.3 410.5 377.7 413.2 377.8C415.9 377.9 420.8 377.9 424.6 377.8C428.4 377.7 433.3 377.5 437.6 377.0C441.9 376.5 446.3 375.5 450.6 374.5C454.9 373.5 459.2 372.0 463.6 370.9C468.0 369.8 473.3 368.5 478.2 367.7C483.1 366.9 493.3 365.8 500.0 365.1C506.7 364.4 513.3 363.4 520.0 363.0C526.7 362.6 533.3 362.6 540.0 362.5C546.7 362.4 570.0 362.4 575.0 362.5C580.0 362.6 585.0 362.8 590.0 363.5C595.0 364.2 604.8 365.7 610.5 367.4C616.2 369.1 621.7 371.7 626.7 374.6C631.7 377.5 636.5 380.9 640.9 384.7C645.3 388.5 652.2 395.9 654.3 398.3C656.4 400.7 658.1 403.4 660.0 405.9C661.9 408.4 667.3 415.2 671.0 419.8C674.7 424.4 678.4 429.3 682.0 433.9C685.6 438.5 689.2 444.2 692.9 447.6C696.6 451.0 701.4 453.1 705.7 455.8C710.0 458.5 716.1 461.0 720.4 464.9C724.7 468.8 729.3 475.2 733.2 480.5C737.1 485.8 740.9 491.1 744.1 496.9C747.3 502.7 750.6 510.2 753.3 517.1C756.0 524.0 758.4 532.8 760.6 539.0C762.8 545.2 765.9 554.6 767.9 557.3C769.9 560.0 774.1 560.8 777.1 561.3C780.1 561.8 783.6 561.7 786.2 560.1C788.8 558.5 793.1 553.9 795.4 550.0C797.7 546.1 798.7 540.8 800.0 536.1C801.3 531.4 804.6 517.2 806.6 509.8C808.6 502.4 811.3 493.1 813.2 487.8C815.1 482.5 817.3 477.3 819.8 472.4C822.3 467.5 826.1 461.0 828.5 458.2C830.9 455.4 835.3 452.7 837.3 451.6C839.3 450.5 841.7 449.5 843.9 450.1C846.1 450.7 852.6 453.7 856.2 456.6C859.8 459.5 863.9 464.7 867.4 469.0C870.9 473.3 874.8 478.9 878.3 484.0C881.8 489.1 885.7 494.9 889.3 500.5C892.9 506.1 896.5 511.7 899.8 517.5C903.1 523.3 906.4 529.9 909.8 536.1C913.2 542.3 917.2 550.0 920.7 555.9C924.2 561.8 928.4 568.7 931.7 573.4C935.0 578.1 939.3 583.0 942.7 586.6C946.1 590.2 950.8 594.1 953.7 596.5C956.6 598.9 961.5 601.9 963.0 603.0"/>
<path class="c" stroke="#0080ff" stroke-width="4.9" d="M191.0 397.7C191.4 397.6 192.5 397.4 193.3 397.2C194.1 397.0 202.0 395.2 206.3 394.2C210.6 393.2 217.1 391.7 222.5 390.6C227.9 389.5 233.4 388.5 238.8 387.4C244.2 386.3 249.6 384.9 255.0 383.8C260.4 382.7 265.9 381.8 271.3 380.9C276.7 380.0 282.2 379.1 287.6 378.3C293.0 377.5 298.4 376.6 303.8 375.8C309.2 375.0 315.7 374.0 320.0 373.5C324.3 373.0 330.6 372.4 333.0 372.1C335.4 371.8 337.6 370.9 340.0 370.8C342.4 370.7 350.9 371.2 356.3 371.6C361.7 372.0 367.1 372.6 372.5 373.2C377.9 373.8 383.4 374.4 388.8 375.1C394.2 375.8 399.6 376.8 405.0 377.6C410.4 378.4 418.1 379.4 421.3 379.7C424.5 380.0 427.8 380.2 431.0 380.0C434.2 379.8 439.7 379.2 444.0 378.4C448.3 377.6 452.7 376.1 457.0 375.1C461.3 374.1 465.6 373.1 470.0 372.2C474.4 371.3 481.7 370.0 486.3 369.2C490.9 368.4 496.6 367.4 500.0 366.7C503.4 366.0 506.6 365.0 510.0 364.4C513.4 363.8 517.0 363.0 520.5 362.8C524.0 362.6 533.5 362.5 540.0 362.5C546.5 362.5 569.5 362.4 575.0 362.5C580.5 362.6 586.1 362.7 591.6 363.4C597.1 364.1 606.3 365.7 612.0 367.4C617.7 369.1 623.2 371.6 628.2 374.6C633.2 377.6 637.7 381.3 642.0 385.2C646.3 389.1 651.3 394.4 655.4 399.4C659.5 404.4 666.0 414.2 669.5 418.9C673.0 423.6 676.9 428.3 680.5 432.6C684.1 436.9 687.9 441.6 691.4 445.4C694.9 449.2 698.9 452.6 702.4 456.4C705.9 460.2 710.2 464.6 713.4 469.2C716.6 473.8 719.7 480.0 722.5 485.6C725.3 491.2 729.9 500.4 733.2 508.0C736.5 515.6 739.7 526.0 742.3 531.7C744.9 537.4 749.4 544.9 751.5 548.2C753.6 551.5 757.0 555.7 758.8 557.3C760.6 558.9 763.5 560.6 765.2 560.6C766.9 560.6 771.7 559.7 773.4 557.3C775.1 554.9 778.4 545.1 780.7 539.0C783.0 532.9 785.7 525.6 788.0 518.9C790.3 512.2 794.3 499.5 797.2 491.5C800.1 483.5 803.9 473.8 806.3 467.7C808.7 461.6 811.7 452.9 813.6 449.4C815.5 445.9 819.0 441.8 821.0 440.2C823.0 438.6 826.0 437.5 828.3 437.5C830.6 437.5 833.0 438.7 835.1 440.0C837.2 441.3 841.2 444.4 843.9 447.0C846.6 449.6 849.9 453.6 852.9 456.9C855.9 460.2 860.5 464.7 863.9 469.0C867.3 473.3 871.2 479.1 874.8 484.3C878.4 489.5 882.1 495.3 885.8 500.8C889.5 506.3 893.1 511.8 896.8 517.3C900.5 522.8 904.2 528.4 907.8 533.7C911.4 539.0 915.2 544.9 918.7 549.6C922.2 554.3 926.4 559.7 929.7 563.3C933.0 566.9 937.3 570.6 940.7 573.0C944.1 575.4 948.1 577.5 951.7 579.0C955.3 580.5 961.1 581.5 963.0 582.0"/>
<path class="c" stroke="#00ff00" stroke-width="4.6" d="M191.0 396.2C191.4 396.1 192.5 395.9 193.3 395.7C194.1 395.5 202.0 393.7 206.3 392.7C210.6 391.7 217.1 390.2 222.5 389.1C227.9 388.0 233.4 387.0 238.8 385.9C244.2 384.8 249.6 383.4 255.0 382.3C260.4 381.2 265.9 380.3 271.3 379.4C276.7 378.5 282.2 377.8 287.6 377.0C293.0 376.2 298.4 375.5 303.8 374.8C309.2 374.1 315.7 373.3 320.0 372.9C324.3 372.5 330.7 372.3 333.0 372.1C335.3 371.9 337.7 371.2 340.0 371.3C342.3 371.4 350.9 372.1 356.3 372.6C361.7 373.1 367.1 373.6 372.5 374.2C377.9 374.8 383.4 375.4 388.8 376.1C394.2 376.8 399.6 377.8 405.0 378.6C410.4 379.4 418.1 380.4 421.3 380.7C424.5 381.0 427.8 381.2 431.0 381.0C434.2 380.8 439.7 380.2 444.0 379.4C448.3 378.6 452.7 377.2 457.0 376.1C461.3 375.0 465.6 373.9 470.0 372.9C474.4 371.9 481.7 370.5 486.3 369.6C490.9 368.7 496.7 367.4 500.0 366.7C503.3 366.0 506.6 365.0 510.0 364.4C513.4 363.8 517.0 363.0 520.5 362.8C524.0 362.6 533.5 362.5 540.0 362.5C546.5 362.5 569.5 362.4 575.0 362.5C580.5 362.6 586.1 362.7 591.6 363.4C597.1 364.1 606.3 365.7 612.0 367.4C617.7 369.1 623.2 371.7 628.2 374.6C633.2 377.5 637.9 381.0 642.4 384.7C646.9 388.4 652.4 393.4 656.7 398.4C661.0 403.4 667.4 412.8 671.0 417.4C674.6 422.0 678.4 426.8 682.0 431.1C685.6 435.4 689.4 440.1 692.9 443.9C696.4 447.7 700.4 451.1 703.9 454.9C707.4 458.7 711.7 463.1 714.9 467.7C718.1 472.3 721.2 478.5 724.0 484.1C726.8 489.7 730.2 497.6 733.2 504.3C736.2 511.0 739.5 518.8 742.3 524.4C745.1 530.0 749.5 537.7 751.5 540.8C753.5 543.9 757.2 547.6 758.8 549.1C760.4 550.6 763.9 552.7 764.3 552.7C764.7 552.7 769.9 550.5 771.6 548.2C773.3 545.9 776.8 538.6 778.9 533.5C781.0 528.4 785.0 516.4 788.0 507.9C791.0 499.4 796.1 485.5 797.2 482.3C798.3 479.1 798.9 475.6 800.0 472.4C801.1 469.2 804.7 459.4 806.6 454.9C808.5 450.4 811.5 444.0 813.2 441.7C814.9 439.4 817.8 437.2 819.8 436.2C821.8 435.2 824.1 434.8 826.3 435.1C828.5 435.4 832.4 436.9 835.1 438.4C837.8 439.9 841.1 442.7 843.9 445.0C846.7 447.3 851.4 451.4 854.9 454.9C858.4 458.4 862.5 462.7 865.9 467.0C869.3 471.3 873.2 477.1 876.8 482.3C880.4 487.5 884.1 493.3 887.8 498.8C891.5 504.3 895.1 509.8 898.8 515.3C902.5 520.8 906.2 526.5 909.8 531.7C913.4 536.9 917.2 542.6 920.7 547.1C924.2 551.6 928.4 557.0 931.7 560.3C935.0 563.6 939.3 566.9 942.7 569.0C946.1 571.1 950.7 573.1 953.7 574.1C956.7 575.1 961.5 575.7 963.0 576.0"/>
</g>
<g clip-path="url(#cB)">
<polyline fill="none" stroke="#000" stroke-width="5" style="stroke-linejoin:miter;stroke-miterlimit:4" points="191.0,822.5 192.5,823.1 200.2,825.1 209.0,826.9 217.9,832.0 228.1,835.3 235.7,836.3 240.8,834.8 248.4,833.8 258.6,834.5 271.3,836.3 277.7,840.9 284.0,846.0 289.1,848.0 295.4,852.3 300.5,854.8 305.6,853.1 310.7,844.7 315.8,833.3 319.6,830.2 324.7,826.9 328.5,820.5 332.3,811.7 336.1,792.6 339.9,767.2 342.4,744.3 346.2,713.8 348.0,680.8 350.1,636.0 351.5,600.0 402.0,600.0 402.9,636.0 403.9,680.8 404.9,718.9 405.4,740.0 405.6,754.6 415.3,741.6 419.0,752.5 420.6,766.0 421.3,782.0 422.8,808.0 424.5,822.0 427.6,832.5 432.5,831.0 436.4,821.5 441.6,825.2 445.5,837.6 449.4,843.4 455.3,841.5 461.8,840.2 469.9,846.7 481.3,847.3 494.3,851.5 507.3,853.8 520.3,857.1 530.1,858.0 543.1,861.0 556.1,864.2 569.1,868.5 577.2,871.0 582.1,866.2 588.6,861.0 595.1,858.7 604.9,855.4 614.6,850.6 622.8,844.1 627.6,839.2 637.4,835.0 647.2,828.5 656.9,822.9 663.4,819.0 673.2,815.4 679.7,808.3 684.6,799.2 689.4,793.7 695.9,798.5 702.4,802.4 708.9,801.8 715.4,799.2 720.8,798.8 722.5,759.9 724.5,716.6 726.6,673.3 727.7,636.0 728.5,600.0 751.4,600.0 751.4,673.0 751.4,600.0 785.0,600.0 786.0,636.0 788.9,653.1 791.8,663.2 796.7,666.9 802.5,663.2 806.2,654.5 808.2,636.0 809.0,600.0 825.0,600.0 825.5,636.0 827.0,687.7 829.3,745.4 830.4,768.5 834.2,803.2 839.1,832.0 844.3,827.7 850.1,820.5 857.3,816.2 864.5,816.2 873.2,814.7 880.4,810.4 887.6,803.2 896.2,796.8 904.9,788.2 912.1,784.4 920.8,783.0 928.0,780.1 936.7,777.8 943.9,775.2 951.1,774.9 963.0,778.0"/>
</g>
<line x1="190.3" y1="745.4" x2="962.9" y2="745.4" stroke="#ff0000" stroke-width="3.1" stroke-dasharray="6.6 5"/>
<path d="M254.96 19.15V28.45M254.96 352.90V371.50M254.96 627.30V645.90M254.96 862.65V871.95M319.32 19.15V37.45M319.32 343.90V380.50M319.32 618.30V654.90M319.32 853.65V871.95M383.67 19.15V28.45M383.67 352.90V371.50M383.67 627.30V645.90M383.67 862.65V871.95M448.03 19.15V37.45M448.03 343.90V380.50M448.03 618.30V654.90M448.03 853.65V871.95M512.39 19.15V28.45M512.39 352.90V371.50M512.39 627.30V645.90M512.39 862.65V871.95M576.75 19.15V37.45M576.75 343.90V380.50M576.75 618.30V654.90M576.75 853.65V871.95M641.11 19.15V28.45M641.11 352.90V371.50M641.11 627.30V645.90M641.11 862.65V871.95M705.47 19.15V37.45M705.47 343.90V380.50M705.47 618.30V654.90M705.47 853.65V871.95M769.83 19.15V28.45M769.83 352.90V371.50M769.83 627.30V645.90M769.83 862.65V871.95M834.18 19.15V37.45M834.18 343.90V380.50M834.18 618.30V654.90M834.18 853.65V871.95M898.54 19.15V28.45M898.54 352.90V371.50M898.54 627.30V645.90M898.54 862.65V871.95" stroke="#000" stroke-width="6.7" fill="none"/>
<path d="M190.60 324.08H208.90M944.60 324.08H962.90M190.60 285.97H199.90M953.60 285.97H962.90M190.60 247.85H208.90M944.60 247.85H962.90M190.60 209.73H199.90M953.60 209.73H962.90M190.60 171.62H208.90M944.60 171.62H962.90M190.60 133.50H199.90M953.60 133.50H962.90M190.60 95.38H208.90M944.60 95.38H962.90M190.60 57.27H199.90M953.60 57.27H962.90M190.60 407.93H199.90M953.60 407.93H962.90M190.60 453.67H208.90M944.60 453.67H962.90M190.60 499.40H199.90M953.60 499.40H962.90M190.60 545.13H208.90M944.60 545.13H962.90M190.60 590.87H199.90M953.60 590.87H962.90M190.60 660.13H199.90M953.60 660.13H962.90M190.60 683.67H199.90M953.60 683.67H962.90M190.60 707.21H199.90M953.60 707.21H962.90M190.60 730.74H199.90M953.60 730.74H962.90M190.60 754.28H208.90M944.60 754.28H962.90M190.60 777.81H199.90M953.60 777.81H962.90M190.60 801.35H199.90M953.60 801.35H962.90M190.60 824.88H199.90M953.60 824.88H962.90M190.60 848.42H199.90M953.60 848.42H962.90" stroke="#000" stroke-width="5.6" fill="none"/>
<line x1="190.60" y1="16.40" x2="190.60" y2="874.90" stroke="#000" stroke-width="5.4"/>
<line x1="962.90" y1="16.40" x2="962.90" y2="874.90" stroke="#000" stroke-width="6.0"/>
<line x1="187.90" y1="19.15" x2="965.90" y2="19.15" stroke="#000" stroke-width="5.5"/>
<line x1="187.90" y1="871.95" x2="965.90" y2="871.95" stroke="#000" stroke-width="5.9"/>
<line x1="190.60" y1="362.20" x2="962.90" y2="362.20" stroke="#000" stroke-width="5.4"/>
<line x1="190.60" y1="636.60" x2="962.90" y2="636.60" stroke="#000" stroke-width="6.4"/>
<text transform="translate(166.8 33.0) scale(1 1.045)" font-size="40.8" text-anchor="end" stroke="#000" stroke-width="0.5">4</text>
<text transform="translate(166.8 109.2) scale(1 1.045)" font-size="40.8" text-anchor="end" stroke="#000" stroke-width="0.5">2</text>
<text transform="translate(166.8 185.4) scale(1 1.045)" font-size="40.8" text-anchor="end" stroke="#000" stroke-width="0.5">0</text>
<text transform="translate(166.8 261.6) scale(1 1.045)" font-size="40.8" text-anchor="end" stroke="#000" stroke-width="0.5">-2</text>
<text transform="translate(166.8 337.9) scale(1 1.045)" font-size="40.8" text-anchor="end" stroke="#000" stroke-width="0.5">-4</text>
<text transform="translate(166.8 376.0) scale(1 1.045)" font-size="40.8" text-anchor="end" stroke="#000" stroke-width="0.5">0</text>
<text transform="translate(166.8 467.5) scale(1 1.045)" font-size="40.8" text-anchor="end" stroke="#000" stroke-width="0.5">-1</text>
<text transform="translate(166.8 558.9) scale(1 1.045)" font-size="40.8" text-anchor="end" stroke="#000" stroke-width="0.5">-2</text>
<text transform="translate(166.8 650.4) scale(1 1.045)" font-size="40.8" text-anchor="end" stroke="#000" stroke-width="0.5">1</text>
<text transform="translate(166.8 768.1) scale(1 1.045)" font-size="40.8" text-anchor="end" stroke="#000" stroke-width="0.5">0.5</text>
<text transform="translate(166.8 885.8) scale(1 1.045)" font-size="40.8" text-anchor="end" stroke="#000" stroke-width="0.5">0</text>
<text transform="translate(190.6 926.6) scale(1 1.045)" font-size="40.8" text-anchor="middle" stroke="#000" stroke-width="0.5">-6</text>
<text transform="translate(319.3 926.6) scale(1 1.045)" font-size="40.8" text-anchor="middle" stroke="#000" stroke-width="0.5">-4</text>
<text transform="translate(448.0 926.6) scale(1 1.045)" font-size="40.8" text-anchor="middle" stroke="#000" stroke-width="0.5">-2</text>
<text transform="translate(582.4 926.6) scale(1 1.045)" font-size="40.8" text-anchor="middle" stroke="#000" stroke-width="0.5">0</text>
<text transform="translate(711.1 926.6) scale(1 1.045)" font-size="40.8" text-anchor="middle" stroke="#000" stroke-width="0.5">2</text>
<text transform="translate(839.8 926.6) scale(1 1.045)" font-size="40.8" text-anchor="middle" stroke="#000" stroke-width="0.5">4</text>
<text transform="translate(968.5 926.6) scale(1 1.045)" font-size="40.8" text-anchor="middle" stroke="#000" stroke-width="0.5">6</text>
<text transform="translate(576.0 987.5) scale(1 1.045)" font-size="40.3" text-anchor="middle" stroke="#000" stroke-width="0.5"><tspan class="sym" font-size="42" stroke="#000" stroke-width="0.9">ω</tspan> [eV]</text>
<text transform="translate(33.6 286.8) rotate(-90) scale(1 1.110)" font-size="40.7" text-anchor="start" stroke="#000" stroke-width="0.5">Re<tspan class="sym">Σ</tspan><tspan font-size="32.5" dy="11.5">GW</tspan><tspan dy="-11.5"> [eV]</tspan></text>
<text transform="translate(33.6 593.0) rotate(-90) scale(1 1.110)" font-size="40.7" text-anchor="start" stroke="#000" stroke-width="0.5">Im<tspan class="sym">Σ</tspan><tspan font-size="32.5" dy="11.5">GW</tspan><tspan dy="-11.5"> [eV]</tspan></text>
<text transform="translate(33.6 821.2) rotate(-90) scale(1 1.110)" font-size="40.7" text-anchor="start" stroke="#000" stroke-width="0.5"><tspan class="sym">Δ</tspan><tspan font-size="32.5" dy="11.5">k</tspan><tspan dy="-11.5"> Z(<tspan class="sym">ω</tspan>)</tspan></text>
<line x1="773.7" y1="58.0" x2="816.8" y2="58.0" stroke="#ff0000" stroke-width="9.0"/>
<text transform="translate(872.0 71.5) scale(1 1.045)" font-size="31.5" text-anchor="start">local</text>
<text transform="translate(229.0 210.4) scale(1 0.980)" font-size="28.5" text-anchor="start">occupied</text>
<line x1="235.0" y1="239.8" x2="277.3" y2="239.8" stroke="#ffc800" stroke-width="5.1"/>
<text transform="translate(301.0 253.2) scale(1 0.895)" font-size="32.5" text-anchor="start" class="sym">Γ</text>
<line x1="235.0" y1="278.0" x2="277.3" y2="278.0" stroke="#c414ff" stroke-width="4.6"/>
<text transform="translate(301.4 291.3) scale(1 1.045)" font-size="30.7" text-anchor="start">X yz</text>
<text transform="translate(232.0 486.7) scale(1 0.980)" font-size="28.5" text-anchor="start">unoccupied</text>
<line x1="235.0" y1="516.9" x2="277.4" y2="516.9" stroke="#00ff00" stroke-width="4.2"/>
<text transform="translate(301.4 530.0) scale(1 1.045)" font-size="30.6" text-anchor="start">X xy/xz</text>
<line x1="235.0" y1="553.4" x2="277.4" y2="553.4" stroke="#00ffff" stroke-width="5.0"/>
<text transform="translate(301.2 566.0) scale(1 1.045)" font-size="30.6" text-anchor="start">M yz/xz</text>
<line x1="235.0" y1="590.3" x2="277.4" y2="590.3" stroke="#0080ff" stroke-width="5.0"/>
<text transform="translate(301.2 603.0) scale(1 1.045)" font-size="30.6" text-anchor="start">M xy</text>
<text transform="translate(210.3 711.5) scale(1 1.045)" font-size="28.0" text-anchor="start">Z<tspan font-size="22.4" dy="8.2">loc</tspan><tspan dy="-8.2">=0.53</tspan></text>
</svg></body></html>
